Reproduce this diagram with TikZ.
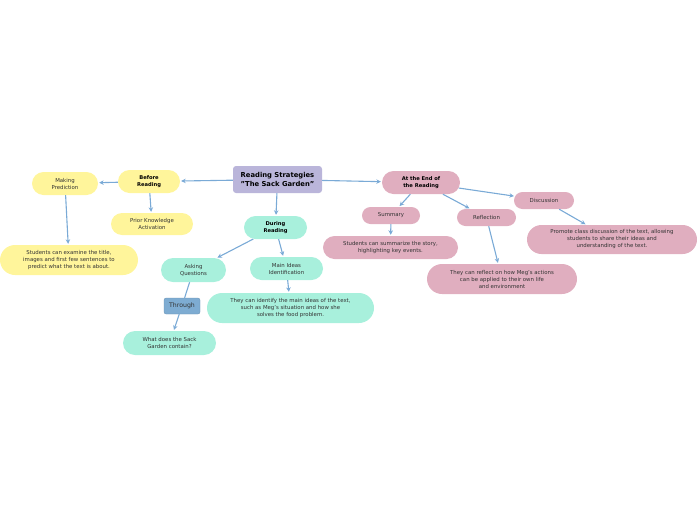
\documentclass[tikz,border=0pt]{standalone}
\usepackage{fontspec}
\setmainfont{DejaVu Sans}
\usepackage{tikz}
\usetikzlibrary{shapes.misc}
\usetikzlibrary{arrows.meta}

\definecolor{yelfill}{RGB}{255,245,155}
\definecolor{mintfill}{RGB}{168,240,220}
\definecolor{pinkfill}{RGB}{224,174,191}
\definecolor{lavfill}{RGB}{186,181,218}
\definecolor{linkblue}{RGB}{122,170,214}
\definecolor{thrfill}{RGB}{126,172,210}
\definecolor{txtgray}{RGB}{51,51,51}

\begin{document}
\begin{tikzpicture}[x=1pt, y=-1pt,
    topic/.style={rounded rectangle, inner sep=0pt, align=center, text=txtgray,
        font=\fontsize{5.4}{7}\selectfont},
    yel/.style={topic, fill=yelfill},
    mint/.style={topic, fill=mintfill},
    pink/.style={topic, fill=pinkfill},
    heading/.style={font=\fontsize{5.2}{7}\selectfont\bfseries, text=black},
    link/.style={draw=linkblue, line width=1.1pt, -{Stealth[length=4.5pt, width=4.5pt]}, shorten >=1pt}]
\useasboundingbox (0,0) rectangle (697,520);

\node[rectangle, rounded corners=3pt, fill=lavfill, align=center, minimum width=89pt, minimum height=27pt, inner sep=0pt, font=\fontsize{6.8}{9}\selectfont\bfseries] (root) at (277.5,179.5) {Reading Strategies\\"The Sack Garden"};

\node[yel, heading, minimum width=62pt, minimum height=23pt] (before) at (149,181.5) {Before\\Reading};
\node[yel, minimum width=66pt, minimum height=23pt] (predict) at (65,183.5) {Making\\Prediction};
\node[yel, minimum width=82pt, minimum height=22pt] (prior) at (152,224) {Prior Knowledge\\Activation};
\node[yel, minimum width=138pt, minimum height=30pt] (examine) at (69,260) {Students can examine the title,\\images and first few sentences to\\predict what the text is about.};

\node[mint, heading, minimum width=63pt, minimum height=23pt] (during) at (275.5,227.5) {During\\Reading};
\node[mint, minimum width=65pt, minimum height=24pt] (asking) at (193.5,270) {Asking\\Questions};
\node[mint, minimum width=73pt, minimum height=23pt] (mainideas) at (286.5,268.5) {Main Ideas\\Identification};
\node[rectangle, rounded corners=2pt, fill=thrfill, draw=thrfill!85!black, line width=0.3pt, minimum width=36pt, minimum height=16pt, inner sep=0pt, text=txtgray, font=\fontsize{6.2}{7}\selectfont] (through) at (182,306) {Through};
\node[mint, minimum width=93pt, minimum height=24pt] (contain) at (169.5,343) {What does the Sack\\Garden contain?};
\node[mint, minimum width=167pt, minimum height=30pt] (identify) at (290.5,308) {They can identify the main ideas of the text,\\such as Meg's situation and how she\\solves the food problem.};

\node[pink, heading, minimum width=78pt, minimum height=23pt] (atend) at (421,182.5) {At the End of\\the Reading};
\node[pink, minimum width=58pt, minimum height=17pt] (summary) at (391,215.5) {Summary};
\node[pink, minimum width=135pt, minimum height=23pt] (summarize) at (390.5,247.5) {Students can summarize the story,\\highlighting key events.};
\node[pink, minimum width=59pt, minimum height=17pt] (reflection) at (486.5,217.5) {Reflection};
\node[pink, minimum width=150pt, minimum height=30pt] (reflect) at (502,279) {They can reflect on how Meg's actions\\can be applied to their own life\\and environment};
\node[pink, minimum width=60pt, minimum height=17pt] (discussion) at (544,200.5) {Discussion};
\node[pink, minimum width=170pt, minimum height=29pt] (promote) at (612,239.5) {Promote class discussion of the text, allowing\\students to share their ideas and\\understanding of the text.};

\draw[link] (root) -- (before);
\draw[link] (before) -- (predict);
\draw[link] (before) -- (prior);
\draw[link] (predict) -- (examine);
\draw[link] (root) -- (during);
\draw[link] (during) -- (asking);
\draw[link] (during) -- (mainideas);
\draw[draw=linkblue, line width=1.1pt] (asking) -- (through);
\draw[link] (through) -- (contain);
\draw[link] (mainideas) -- (identify);
\draw[link] (root) -- (atend);
\draw[link] (atend) -- (summary);
\draw[link] (atend) -- (reflection);
\draw[link] (atend) -- (discussion);
\draw[link] (summary) -- (summarize);
\draw[link] (reflection) -- (reflect);
\draw[link] (discussion) -- (promote);
\end{tikzpicture}
\end{document}
